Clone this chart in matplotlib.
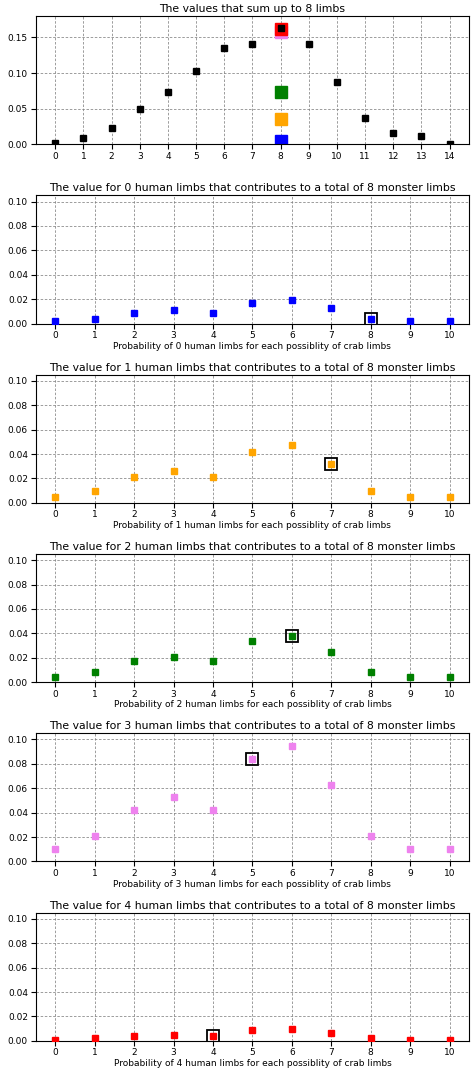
import matplotlib
matplotlib.use("Agg")
import matplotlib.pyplot as plt
import numpy as np

total_x = list(range(15))
total_vals = [0.001, 0.009, 0.023, 0.050, 0.073, 0.103, 0.135, 0.141, 0.163, 0.141, 0.088, 0.037, 0.016, 0.011, 0.0005]
crab_x = list(range(11))
rows = {
    0: [0.002, 0.004, 0.009, 0.011, 0.009, 0.017, 0.019, 0.013, 0.004, 0.002, 0.002],
    1: [0.005, 0.010, 0.021, 0.026, 0.021, 0.042, 0.047, 0.032, 0.010, 0.005, 0.005],
    2: [0.004, 0.008, 0.017, 0.021, 0.017, 0.034, 0.038, 0.025, 0.008, 0.004, 0.004],
    3: [0.0105, 0.021, 0.042, 0.0525, 0.042, 0.084, 0.095, 0.063, 0.021, 0.0105, 0.0105],
    4: [0.001, 0.002, 0.004, 0.005, 0.004, 0.0085, 0.0095, 0.006, 0.002, 0.001, 0.001],
}
colors = ['blue', 'orange', 'green', 'violet', 'red']
target = 8

fig, axes = plt.subplots(6, 1, figsize=(4.74, 10.73), dpi=100)
ax = axes[0]
ax.set_title("The values that sum up to 8 limbs", fontsize=7.8, pad=3)
cum = 0
for h in range(5):
    v = rows[h][target - h]
    cum += v
    ax.plot(target, cum, 's', color=colors[h], markersize=9, zorder=2)
ax.plot(total_x, total_vals, 's', color='black', markersize=4, zorder=3)
ax.set_xticks(total_x)
ax.set_ylim(0, 0.18)

for h in range(5):
    ax = axes[h + 1]
    ax.set_title(f"The value for {h} human limbs that contributes to a total of 8 monster limbs", fontsize=7.8, pad=3)
    ax.plot(crab_x, rows[h], 's', color=colors[h], markersize=4, zorder=3)
    ax.plot(target - h, rows[h][target - h], 's', markerfacecolor='none', markeredgecolor='black',
            markersize=9, markeredgewidth=1.3, zorder=4)
    ax.set_xticks(crab_x)
    ax.set_ylim(0, 0.105)
    ax.set_xlabel(f"Probability of {h} human limbs for each possiblity of crab limbs", fontsize=6.5, labelpad=1)

for ax in axes:
    ax.tick_params(labelsize=6.5, pad=2)
    ax.grid(True, linestyle=(0, (3, 2)), color='gray', linewidth=0.6, alpha=0.9)
    ax.set_axisbelow(True)

fig.subplots_adjust(left=0.075, right=0.99, top=0.985, bottom=0.03, hspace=0.4)
fig.savefig("out.png")
